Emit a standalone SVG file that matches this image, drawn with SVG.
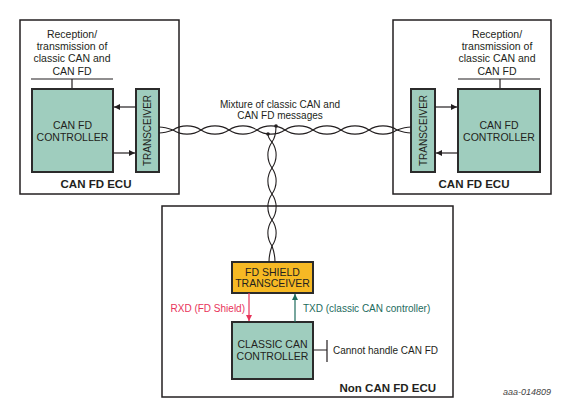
<svg xmlns="http://www.w3.org/2000/svg" width="568" height="412" viewBox="0 0 568 412">
<style>
text{font-family:"Liberation Sans",Arial,sans-serif;font-size:10px;fill:#231f20}
.r{font-size:10.5px}
.b{font-weight:bold;font-size:11.5px}
.ecu{fill:#fff;stroke:#231f20;stroke-width:1.5}
.ctl{fill:#9fcdbe;stroke:#2b2b2b;stroke-width:2}
.gold{fill:#f6b924;stroke:#2b2b2b;stroke-width:2}
.ln{stroke:#231f20;stroke-width:1.2;fill:none}
.w{stroke:#231f20;stroke-width:1.1;fill:none}
</style>
<defs>
<marker id="ah" viewBox="0 0 10 10" refX="10" refY="5" markerWidth="6" markerHeight="6" markerUnits="userSpaceOnUse" orient="auto"><path d="M0,0L10,5L0,10z" fill="#231f20"/></marker>
<marker id="ahr" viewBox="0 0 10 10" refX="10" refY="5" markerWidth="6" markerHeight="6" markerUnits="userSpaceOnUse" orient="auto"><path d="M0,0L10,5L0,10z" fill="#e8335a"/></marker>
<marker id="aht" viewBox="0 0 10 10" refX="10" refY="5" markerWidth="6" markerHeight="6" markerUnits="userSpaceOnUse" orient="auto"><path d="M0,0L10,5L0,10z" fill="#1d6b5d"/></marker>
</defs>
<rect width="568" height="412" fill="#fff"/>

<g id="ecu-left">
<rect class="ecu" x="20" y="20" width="159" height="174"/>
<text class="r" text-anchor="middle" x="72" y="37.5">Reception/</text>
<text class="r" text-anchor="middle" x="72" y="49.5">transmission of</text>
<text class="r" text-anchor="middle" x="72" y="62">classic CAN and</text>
<text class="r" text-anchor="middle" x="72" y="74.5">CAN FD</text>
<path class="ln" d="M31,79H113M72,79V89"/>
<text class="b" text-anchor="middle" x="96" y="188">CAN FD ECU</text>
</g>
<g id="ctl-left">
<rect class="ctl" x="32" y="89" width="81" height="83"/>
<text class="r" text-anchor="middle" x="72.5" y="128.5">CAN FD</text>
<text class="r" text-anchor="middle" x="72.5" y="140.5">CONTROLLER</text>
</g>
<g id="trx-left">
<rect class="ctl" x="136" y="89" width="23" height="83"/>
<text text-anchor="middle" transform="translate(151,130.5) rotate(-90)">TRANSCEIVER</text>
</g>

<g id="ecu-right">
<rect class="ecu" x="393" y="20" width="158" height="174"/>
<text class="r" text-anchor="middle" x="497" y="37.5">Reception/</text>
<text class="r" text-anchor="middle" x="497" y="49.5">transmission of</text>
<text class="r" text-anchor="middle" x="497" y="62">classic CAN and</text>
<text class="r" text-anchor="middle" x="497" y="74.5">CAN FD</text>
<path class="ln" d="M458,79H540M500,79V89"/>
<text class="b" text-anchor="middle" x="474" y="188">CAN FD ECU</text>
</g>
<g id="ctl-right">
<rect class="ctl" x="458" y="89" width="82" height="83"/>
<text class="r" text-anchor="middle" x="499" y="128.5">CAN FD</text>
<text class="r" text-anchor="middle" x="499" y="140.5">CONTROLLER</text>
</g>
<g id="trx-right">
<rect class="ctl" x="411" y="89" width="24" height="83"/>
<text text-anchor="middle" transform="translate(426.5,130.5) rotate(-90)">TRANSCEIVER</text>
</g>

<g id="ecu-bottom">
<rect class="ecu" x="162" y="206" width="291" height="191"/>
<text class="b" text-anchor="end" x="436" y="392">Non CAN FD ECU</text>
</g>
<g id="fd-shield">
<rect class="gold" x="232" y="262" width="81" height="31"/>
<text class="r" text-anchor="middle" x="272.5" y="275.5">FD SHIELD</text>
<text class="r" text-anchor="middle" x="272.5" y="287">TRANSCEIVER</text>
</g>
<g id="classic-ctl">
<rect class="ctl" x="232" y="322" width="81" height="57"/>
<text class="r" text-anchor="middle" x="272.5" y="347.5">CLASSIC CAN</text>
<text class="r" text-anchor="middle" x="272.5" y="359.5">CONTROLLER</text>
</g>

<g id="connectors">
<path class="ln" d="M136,107H114" marker-end="url(#ah)"/>
<path class="ln" d="M113,153H135" marker-end="url(#ah)"/>
<path class="ln" d="M435,107H457" marker-end="url(#ah)"/>
<path class="ln" d="M458,153H436" marker-end="url(#ah)"/>
<path d="M249,293V321" stroke="#e8335a" stroke-width="1.2" fill="none" marker-end="url(#ahr)"/>
<path d="M295,322V294" stroke="#1d6b5d" stroke-width="1.2" fill="none" marker-end="url(#aht)"/>
<path class="w" d="M159,127C165,127 169,128.5 173,130C181,135.5 193,135.5 201,130C209,124.5 221,124.5 229,130C237,135.5 249,135.5 257,130C265,124.5 277,124.5 285,130C293,135.5 305,135.5 313,130C321,124.5 333,124.5 341,130C349,135.5 361,135.5 369,130C377,124.5 389,124.5 397,130C401,131.5 405,133 411,133"/>
<path class="w" d="M159,133C165,133 169,131.5 173,130C181,124.5 193,124.5 201,130C209,135.5 221,135.5 229,130C237,124.5 249,124.5 257,130C265,135.5 277,135.5 285,130C293,124.5 305,124.5 313,130C321,135.5 333,135.5 341,130C349,124.5 361,124.5 369,130C377,135.5 389,135.5 397,130C401,128.5 405,127 411,127"/>
<path class="w" d="M276,126C276,132 275,138 272,142C266.5,150 266.5,160 272,168C277.5,176 277.5,186 272,194C266.5,202 266.5,212 272,220C277.5,228 277.5,238 272,246C270.5,250 269,255 269,262"/>
<path class="w" d="M268,134C268,137 269,139 272,142C277.5,150 277.5,160 272,168C266.5,176 266.5,186 272,194C277.5,202 277.5,212 272,220C266.5,228 266.5,238 272,246C273.5,250 275,255 275,262"/>
<circle cx="276" cy="126" r="1.8" fill="#231f20"/>
<circle cx="268" cy="134" r="1.8" fill="#231f20"/>
<path class="ln" d="M313,350H327M327,340V362"/>
</g>

<g id="labels">
<text text-anchor="middle" x="280" y="107.5">Mixture of classic CAN and</text>
<text text-anchor="middle" x="280" y="118.5">CAN FD messages</text>
<text text-anchor="end" x="245" y="311.5" style="fill:#e8335a">RXD (FD Shield)</text>
<text x="303" y="311.5" style="fill:#1d6b5d">TXD (classic CAN controller)</text>
<text x="333" y="353.5">Cannot handle CAN FD</text>
<text x="503" y="395" style="font-style:italic;font-size:9px;fill:#444">aaa-014809</text>
</g>
</svg>
